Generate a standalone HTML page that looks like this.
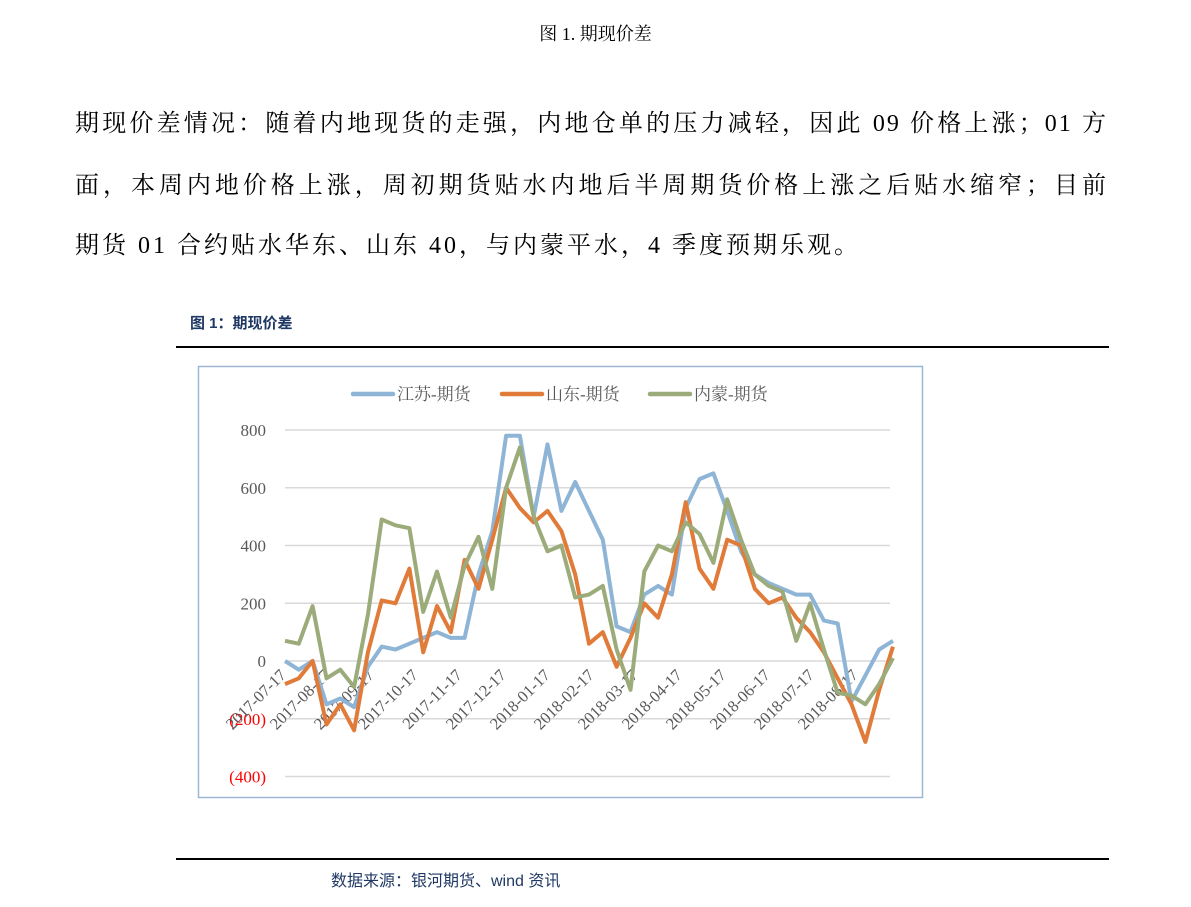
<!DOCTYPE html>
<html><head><meta charset="utf-8">
<style>
body{margin:0;width:1191px;height:907px;background:#fff;position:relative;overflow:hidden;font-family:"Liberation Serif","Noto Serif CJK SC",serif;}
.t{position:absolute;white-space:nowrap;}
.p{position:absolute;left:75px;width:1033px;font-size:24px;color:#000;text-align:justify;text-align-last:justify;letter-spacing:2px;}
</style></head><body>
<div class="t" style="left:0;width:1191px;text-align:center;top:20px;font-size:18px;">图 1. 期现价差</div>
<div class="p" style="top:103px;">期现价差情况：随着内地现货的走强，内地仓单的压力减轻，因此 09 价格上涨；01 方</div>
<div class="p" style="top:165px;">面，本周内地价格上涨，周初期货贴水内地后半周期货价格上涨之后贴水缩窄；目前</div>
<div class="p" style="top:225px;width:auto;text-align:left;text-align-last:left;letter-spacing:3px;">期货 01 合约贴水华东、山东 40，与内蒙平水，4 季度预期乐观。</div>
<div class="t" style="left:190px;top:312px;font-size:15px;font-weight:bold;color:#1f3864;font-family:'Liberation Sans','Noto Sans CJK SC',sans-serif;">图 1：期现价差</div>
<div style="position:absolute;left:176px;top:346px;width:933px;height:1.5px;background:#000;"></div>
<div style="position:absolute;left:176px;top:858px;width:933px;height:1.5px;background:#000;"></div>
<div class="t" style="left:331px;top:867px;font-size:16px;color:#1f3864;font-family:'Liberation Sans','Noto Sans CJK SC',sans-serif;">数据来源：银河期货、wind 资讯</div>
<svg id="chart" style="position:absolute;left:0;top:0" width="1191" height="907"></svg>
<script>
const dates=["2017-07-17","2017-08-17","2017-09-17","2017-10-17","2017-11-17","2017-12-17","2018-01-17","2018-02-17","2018-03-17","2018-04-17","2018-05-17","2018-06-17","2018-07-17","2018-08-17"];
const yTicks=[800,600,400,200,0,-200,-400];
const seriesNames=["江苏-期货","山东-期货","内蒙-期货"];
const jiangsu=[0,-30,0,-150,-130,-160,-20,50,40,60,80,100,80,80,300,450,780,780,500,750,520,620,520,420,120,100,230,260,230,530,630,650,520,380,300,270,250,230,230,140,130,-140,-50,40,70];
const shandong=[-80,-60,0,-220,-150,-240,30,210,200,320,30,190,100,350,250,420,600,530,480,520,450,300,60,100,-20,80,200,150,300,550,320,250,420,400,250,200,220,150,100,30,-60,-150,-280,-100,50];
const neimeng=[70,60,190,-60,-30,-90,160,490,470,460,170,310,150,330,430,250,600,740,500,380,400,220,230,260,40,-100,310,400,380,480,440,340,560,420,300,260,240,70,200,40,-110,-120,-150,-80,10];
const colors=["#8eb4d6","#e07b39","#9cab7a"];
const NS="http://www.w3.org/2000/svg";
const svg=document.getElementById('chart');
function mk(t,a){const e=document.createElementNS(NS,t);for(const k in a)e.setAttribute(k,a[k]);svg.appendChild(e);return e;}
const X0=285,X1=893,Y0=661,PX=231/800;
const yS=v=>Y0-v*PX;
const xS=(i,n)=>X0+i*(X1-X0)/(n-1);
const xD=i=>X0+i*44;
let fr=mk('rect',{x:198.5,y:366.5,width:724,height:431,fill:'none',stroke:'#9bb7d4','stroke-width':1.5});


yTicks.forEach(v=>{
  let g=mk('line',{x1:X0,x2:890,y1:yS(v),y2:yS(v),stroke:'#d9d9d9','stroke-width':1.5});
  
  
  let t=mk('text',{x:266,y:yS(v)+6,'text-anchor':'end','font-size':17,fill:v<0?'#ff0000':'#595959','font-family':'Liberation Serif, serif'});
  t.textContent=v<0?'('+(-v)+')':String(v);
  
  
});
dates.forEach((d,i)=>{
  const x=xD(i)+2;
  let t=mk('text',{x:x,y:676,'text-anchor':'end','font-size':16.5,fill:'#595959','font-family':'Liberation Serif, serif',transform:`rotate(-45 ${x} 676)`});
  t.textContent=d;
  
  
});
[jiangsu,shandong,neimeng].forEach((s,k)=>{
  const pts=s.map((v,i)=>xS(i,s.length).toFixed(1)+','+yS(v).toFixed(1)).join(' ');
  let p=mk('polyline',{points:pts,fill:'none',stroke:colors[k],'stroke-width':4,'stroke-linejoin':'round'});
  
  
});
const lx=[353,502,650];
seriesNames.forEach((n,k)=>{
  let l=mk('line',{x1:lx[k],x2:lx[k]+40,y1:394,y2:394,stroke:colors[k],'stroke-width':4.5,'stroke-linecap':'round'});
  
  
  let t=mk('text',{x:lx[k]+44,y:400,'font-size':17,fill:'#595959','font-family':'Liberation Serif, Noto Serif CJK SC, serif'});
  t.textContent=n;
  
  
});
</script>
</body></html>
